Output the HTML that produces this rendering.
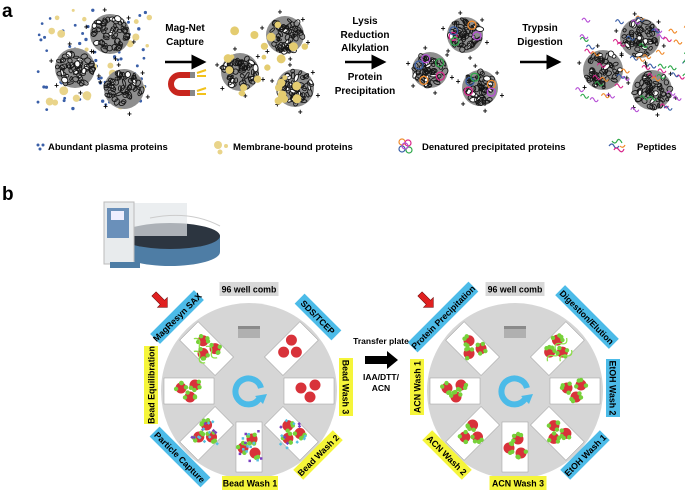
<!DOCTYPE html>
<html><head><meta charset="utf-8"><style>
body{margin:0;background:#fff}
svg{display:block;font-family:"Liberation Sans",Arial,sans-serif;font-weight:bold}
</style></head><body>
<svg id="s" width="685" height="492" viewBox="0 0 685 492" xmlns="http://www.w3.org/2000/svg">
<defs>
<marker id="ah" markerWidth="6" markerHeight="6" refX="5" refY="3" orient="auto"><path d="M0,0 L6,3 L0,6 z" fill="#000"/></marker>
</defs>
<g id="bg"></g>
<text x="2" y="17" font-size="19">a</text>
<text x="2" y="200" font-size="19">b</text>
<line x1="165" y1="62" x2="204" y2="62" stroke="#000" stroke-width="2.5" marker-end="url(#ah)"/>
<text x="185" y="31" font-size="10" text-anchor="middle">Mag-Net</text>
<text x="185" y="45" font-size="10" text-anchor="middle">Capture</text>
<line x1="345" y1="62" x2="384" y2="62" stroke="#000" stroke-width="2.5" marker-end="url(#ah)"/>
<text x="365" y="24" font-size="10" text-anchor="middle">Lysis</text>
<text x="365" y="38" font-size="10" text-anchor="middle">Reduction</text>
<text x="365" y="51" font-size="10" text-anchor="middle">Alkylation</text>
<text x="365" y="80" font-size="10" text-anchor="middle">Protein</text>
<text x="365" y="94" font-size="10" text-anchor="middle">Precipitation</text>
<line x1="520" y1="62" x2="559" y2="62" stroke="#000" stroke-width="2.5" marker-end="url(#ah)"/>
<text x="540" y="31" font-size="10" text-anchor="middle">Trypsin</text>
<text x="540" y="45" font-size="10" text-anchor="middle">Digestion</text>
<path d="M190,72 h-10 a12,12 0 0 0 0,24 h10 v-6 h-10 a6,6 0 0 1 0,-12 h10 z" fill="#c8261e"/>
<rect x="190" y="72" width="5" height="6" fill="#888"/><rect x="190" y="90" width="5" height="6" fill="#888"/>
<path d="M197,73 l9,-3 M197,76 l9,0 M197,91 l9,-3 M197,94 l9,0" stroke="#f2c21b" stroke-width="2"/>
<circle cx="38" cy="145" r="1.5" fill="#3a5fa8"/><circle cx="43" cy="145" r="1.5" fill="#3a5fa8"/><circle cx="40" cy="149" r="1.5" fill="#3a5fa8"/>
<text x="48" y="150" font-size="9.5">Abundant plasma proteins</text>
<circle cx="218" cy="145" r="4" fill="#e9d48a"/><circle cx="226" cy="146" r="2" fill="#e9d48a"/><circle cx="220" cy="152" r="2.5" fill="#e9d48a"/>
<text x="233" y="150" font-size="9.5">Membrane-bound proteins</text>
<g fill="none" stroke-width="1.2"><circle cx="402" cy="142" r="3" stroke="#f08a2b"/><circle cx="408" cy="143" r="3" stroke="#d8268a"/><circle cx="402" cy="149" r="3" stroke="#3a5fa8"/><circle cx="409" cy="150" r="3" stroke="#2ea84a"/><circle cx="405" cy="146" r="3" stroke="#b64fd6"/></g>
<text x="422" y="150" font-size="9.5">Denatured precipitated proteins</text>
<g fill="none" stroke-width="1.2"><path d="M609,146 q3,-4 5,0 t5,0" stroke="#3a5fa8"/><path d="M612,141 q3,4 5,0 t5,2" stroke="#2ea84a"/><path d="M614,150 q2,-4 5,0 t5,-1" stroke="#d8268a"/><path d="M620,146 q3,3 5,-1" stroke="#f08a2b"/></g>
<text x="637" y="150" font-size="9.5">Peptides</text>
<g>
<ellipse cx="170" cy="252" rx="50" ry="14" fill="#4e7da5"/>
<rect x="120" y="236" width="100" height="16" fill="#4e7da5"/>
<ellipse cx="170" cy="236" rx="50" ry="13" fill="#2c3540"/>
<path d="M132,203 h55 v33 h-55 z" fill="#e3e7ea" opacity="0.7"/>
<path d="M150,218 q40,-8 70,8" fill="none" stroke="#ccc"/>
<rect x="104" y="202" width="30" height="62" fill="#e8ebed" stroke="#bbb"/>
<rect x="107" y="208" width="22" height="30" fill="#6a90ba"/>
<rect x="111" y="211" width="13" height="9" fill="#eef"/>
<rect x="110" y="262" width="30" height="6" fill="#4e7da5"/>
</g>
<circle cx="249" cy="391" r="88" fill="#d6d6d6"/>
<circle cx="515" cy="391" r="88" fill="#d6d6d6"/>
<g id="fg"></g>
<text x="381" y="344" font-size="8.5" text-anchor="middle">Transfer plate</text>
<path d="M365,356 h22 v-5 l11,9 l-11,9 v-5 h-22 z" fill="#000"/>
<text x="381" y="380" font-size="8.5" text-anchor="middle">IAA/DTT/</text>
<text x="381" y="391" font-size="8.5" text-anchor="middle">ACN</text>
</svg>
<script>
var NS="http://www.w3.org/2000/svg";var bg=document.getElementById('bg'),fg=document.getElementById('fg');
var seed=7;function R(){seed=(seed*16807)%2147483647;return seed/2147483647;}
function el(p,t,a){var e=document.createElementNS(NS,t);for(var k in a)e.setAttribute(k,a[k]);p.appendChild(e);return e;}
function txt(p,x,y,s,sz,anc,rot){var e=el(p,'text',{x:x,y:y,'font-size':sz,'text-anchor':anc||'middle'});if(rot!==undefined)e.setAttribute('transform','rotate('+rot+' '+x+' '+y+')');e.textContent=s;return e;}
function bead(cx,cy,r){el(bg,'circle',{cx:cx,cy:cy,r:r,fill:'#8e8e8e'});
for(var i=0;i<55;i++){var a=R()*6.28,d=Math.sqrt(R())*r*0.9;var x=cx+Math.cos(a)*d,y=cy+Math.sin(a)*d;el(bg,'ellipse',{cx:x,cy:y,rx:1.5+R()*2.5,ry:1+R()*1.8,fill:R()<0.15?'#fff':'none',stroke:'#151515','stroke-width':0.9,transform:'rotate('+(R()*180)+' '+x+' '+y+')'});}
for(var j=0;j<6;j++){var b=j*1.05+0.3;txt(bg,cx+Math.cos(b)*(r+5),cy+Math.sin(b)*(r+5)+3,'+',8);} }
function dots(x0,y0,x1,y1,n,col,rmin,rmax){for(var i=0;i<n;i++)el(bg,'circle',{cx:x0+R()*(x1-x0),cy:y0+R()*(y1-y0),r:rmin+R()*(rmax-rmin),fill:col});}
dots(38,10,150,110,75,'#3a5fa8',1.3,1.7);dots(38,10,150,110,30,'#e9d48a',1.5,4.5);
bead(110,34,20);bead(75,68,20);bead(124,89,20);
bead(285,35,19);bead(240,72,19);bead(295,88,19);dots(225,20,310,105,25,'#e4cc70',2,4.5);
bead(465,35,18);bead(430,70,18);bead(480,88,18);
var cols=['#f08a2b','#d8268a','#3a5fa8','#2ea84a','#b64fd6'];
[[465,35],[430,70],[480,88]].forEach(function(c){for(var i=0;i<5;i++){var a=R()*6.28;el(bg,'circle',{cx:c[0]+Math.cos(a)*12,cy:c[1]+Math.sin(a)*12,r:4,fill:'none',stroke:cols[i],'stroke-width':1.3});}});
bead(640,38,20);bead(603,70,20);bead(652,90,20);
for(var i=0;i<60;i++){var x=575+R()*110,y=15+R()*100;el(bg,'path',{d:'M'+x+','+y+' q2,-4 4,0 t4,0',fill:'none',stroke:cols[i%5],'stroke-width':1.1});}
function label(cx,cy,w,s,col,rot){var g=el(fg,'g',{transform:'translate('+cx+','+cy+') rotate('+rot+')'});el(g,'rect',{x:-w/2,y:-7,width:w,height:14,fill:col});txt(g,0,3.5,s,8.8);}
var B='#4cbbe8',Y='#f5f53a',G='#d8d8d8';
function tile(cx,cy,ang,kind){var g=el(fg,'g',{transform:'translate('+cx+','+cy+') rotate('+ang+')'});el(g,'rect',{x:-25,y:-13,width:50,height:26,fill:'#fff',stroke:'#999','stroke-width':0.5});
var pts=[[-8,-3],[6,-6],[1,6]];pts.forEach(function(p){el(g,'circle',{cx:p[0],cy:p[1],r:5.5,fill:'#d8323a'});
if(kind>0)for(var k=0;k<4;k++){var a=R()*6.28;el(g,'circle',{cx:p[0]+Math.cos(a)*5,cy:p[1]+Math.sin(a)*5,r:2.2,fill:'#77d13a'});}
if(kind==2)for(var k=0;k<5;k++)el(g,'rect',{x:p[0]-9+R()*18,y:p[1]-8+R()*16,width:2.5,height:2.5,fill:k%2?'#7a3fc0':'#58c0e0'});
if(kind==3)el(g,'path',{d:'M'+(p[0]-8)+','+(p[1]+5)+' q4,-6 8,0 t8,0',fill:'none',stroke:'#8ee04a','stroke-width':1.3});});}
function wheel(cx,cy,labs,kinds){
for(var i=1;i<8;i++){var a=(-90+i*45)*Math.PI/180;var d=(i==4)?56:60;var rot=(i==4)?90:((i==2||i==6)?0:(i==1||i==5?-45:45));tile(cx+Math.cos(a)*d,cy+Math.sin(a)*d,rot,kinds[i]);}
el(fg,'rect',{x:cx-11,y:cy-65,width:22,height:12,fill:'#8a8a8a'});el(fg,'rect',{x:cx-11,y:cy-62,width:22,height:9,fill:'#b0b0b0'});
el(fg,'path',{d:'M'+(cx+10)+','+(cy+8)+' A13,13 0 1 1 '+(cx+12)+','+(cy-3),fill:'none',stroke:B,'stroke-width':6});
el(fg,'path',{d:'M'+(cx+6)+','+(cy+5)+' l12,-2 l-4,10 z',fill:B});
label(cx,cy-102,59,'96 well comb',G,0);
labs.forEach(function(l){label(cx+l[0],cy+l[1],l[2],l[3],l[4],l[5]);});
var sg=el(fg,'g',{transform:'translate('+(cx-88)+','+(cy-90)+') rotate(45)'});el(sg,'path',{d:'M-10,-3 h12 v-4 l7,7 l-7,7 v-4 h-12 z',fill:'#e02020',stroke:'#600','stroke-width':0.5});}
wheel(249,391,[[-72,-74,62,'MagResyn SAX',B,-45],[69,-74,52,'SDS/TCEP',B,45],[-98,-6,78,'Bead Equilibration',Y,-90],[97,-4,58,'Bead Wash 3',Y,90],[-69,66,72,'Particle Capture',B,45],[1,92,56,'Bead Wash 1',Y,0],[69,64,56,'Bead Wash 2',Y,-45]],[0,0,0,2,2,2,1,3]);
wheel(515,391,[[-72,-74,86,'Protein Precipitation',B,-45],[72,-74,76,'Digestion/Elution',B,45],[-98,-4,56,'ACN Wash 1',Y,-90],[98,-3,58,'EtOH Wash 2',B,90],[-68,64,56,'ACN Wash 2',Y,45],[3,92,57,'ACN Wash 3',Y,0],[70,64,56,'EtOH Wash 1',B,-45]],[0,3,1,1,1,1,1,1]);
</script>
</body></html>
